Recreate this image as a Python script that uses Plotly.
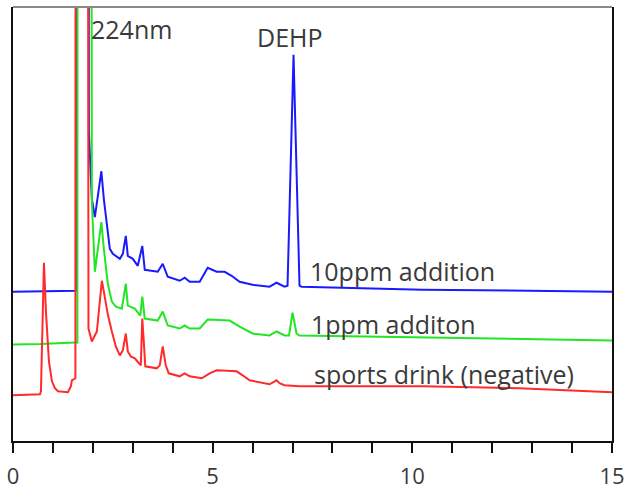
import plotly.graph_objects as go

# Retention time (min) and absorbance (arbitrary units, offset traces)
t_neg = [0.00, 0.675, 0.70, 0.775, 0.825, 0.90, 0.975, 1.05, 1.125, 1.375, 1.45, 1.475, 1.5625,
         1.5875, 1.72, 1.83, 1.89, 1.975, 2.10, 2.225, 2.275, 2.375, 2.475, 2.575, 2.675, 2.75,
         2.825, 2.875, 2.95, 3.05, 3.20, 3.2375, 3.275, 3.3125, 3.60, 3.675, 3.75, 3.825, 3.90,
         4.175, 4.30, 4.425, 4.725, 4.925, 5.10, 5.60, 5.75, 5.925, 6.425, 6.60, 6.675, 6.80,
         7.175, 10.25, 12.675, 15.0]
a_neg = [46, 47, 50, 179, 130, 80, 60, 53, 50, 49, 55, 61, 63,
         3000, 3000, 3000, 113, 100, 110, 161, 150, 127, 110, 95, 86, 91,
         108, 90, 85, 83, 76, 123, 100, 75, 73, 76, 95, 76, 68,
         65, 68, 65, 63, 68, 71, 70, 66, 61, 57, 61, 58, 56,
         55, 55, 53, 49]

t_1ppm = [0.00, 0.675, 1.55, 1.6125, 1.6375, 1.75, 1.89, 1.975, 2.05, 2.125, 2.2125, 2.275,
          2.375, 2.475, 2.575, 2.725, 2.825, 2.875, 3.05, 3.1875, 3.2375, 3.30, 3.625, 3.75,
          3.875, 4.175, 4.30, 4.425, 4.675, 4.875, 5.425, 5.675, 6.00, 6.425, 6.60, 6.80,
          6.9125, 7.00, 7.10, 7.175, 10.25, 15.0]
a_1ppm = [97, 97.5, 99, 99, 3000, 3000, 3000, 240, 170, 193, 220, 193,
          158, 140, 135, 133, 158, 136, 133, 126, 145, 123, 121, 130,
          116, 113, 116, 113, 113, 122, 121, 115, 108, 106, 110, 106,
          106, 129, 108, 106, 104, 101]

t_10ppm = [0.00, 1.175, 1.575, 1.6125, 1.72, 1.85, 1.90, 1.975, 2.05, 2.125, 2.2125, 2.275,
           2.375, 2.425, 2.50, 2.675, 2.75, 2.825, 2.875, 3.00, 3.125, 3.2375, 3.30, 3.625,
           3.75, 3.875, 4.175, 4.30, 4.425, 4.675, 4.875, 5.10, 5.30, 5.475, 5.675, 6.00,
           6.425, 6.60, 6.80, 6.875, 7.025, 7.175, 7.225, 10.25, 15.0]
a_10ppm = [150, 151, 151, 3000, 3000, 3000, 310, 243, 225, 248, 271, 243,
           208, 193, 188, 183, 188, 206, 186, 183, 176, 196, 172, 170,
           178, 165, 161, 164, 160, 160, 174, 170, 170, 166, 160, 157,
           155, 159, 155, 156, 388, 156, 155, 152, 150]

x_tick_vals = list(range(0, 16))
x_tick_text = ["0", "", "", "", "", "5", "", "", "", "", "10", "", "", "", "", "15"]

series_labels = ["sports drink (negative)", "1ppm additon", "10ppm addition"]
wavelength_label = "224nm"
peak_label = "DEHP"

FONT = "Open Sans"
TXT = "#3a3a3a"

fig = go.Figure()
# draw order: blue, green, red (red on top as in the original)
fig.add_trace(go.Scatter(x=t_10ppm, y=a_10ppm, mode="lines",
                         line=dict(color="#1a1aff", width=2), name=series_labels[2]))
fig.add_trace(go.Scatter(x=t_1ppm, y=a_1ppm, mode="lines",
                         line=dict(color="#22e622", width=2), name=series_labels[1]))
fig.add_trace(go.Scatter(x=t_neg, y=a_neg, mode="lines",
                         line=dict(color="#ff2a2a", width=2), name=series_labels[0]))

ann = [
    dict(x=1.9, y=414, text=wavelength_label, xanchor="left", yanchor="middle"),
    dict(x=6.925, y=405.5, text=peak_label, xanchor="center", yanchor="middle"),
    dict(x=7.375, y=171, text=series_labels[2], xanchor="left", yanchor="middle"),
    dict(x=7.40, y=118, text=series_labels[1], xanchor="left", yanchor="middle"),
    dict(x=7.475, y=67, text=series_labels[0], xanchor="left", yanchor="middle"),
]
for a in ann:
    a.update(xref="x", yref="y", showarrow=False,
             font=dict(family=FONT, size=25, color=TXT))

fig.update_layout(
    width=632, height=497,
    margin=dict(l=13, r=19, t=7, b=54),
    paper_bgcolor="white", plot_bgcolor="white",
    showlegend=False,
    annotations=ann,
    xaxis=dict(range=[0, 15], tickvals=x_tick_vals, ticktext=x_tick_text,
               ticks="outside", ticklen=10, tickwidth=2, tickcolor="#111111",
               ticklabelstandoff=5,
               showline=True, linewidth=2, linecolor="#111111",
               showgrid=False, zeroline=False,
               tickfont=dict(family=FONT, size=22, color=TXT)),
    yaxis=dict(range=[0, 436], showticklabels=False, ticks="",
               showline=True, linewidth=2, linecolor="#111111", mirror=True,
               showgrid=False, zeroline=False),
    shapes=[dict(type="line", xref="paper", yref="paper", x0=0, x1=1, y0=1, y1=1,
                 line=dict(color="#8a8a8a", width=2))],
)

fig.write_html("out.html")
